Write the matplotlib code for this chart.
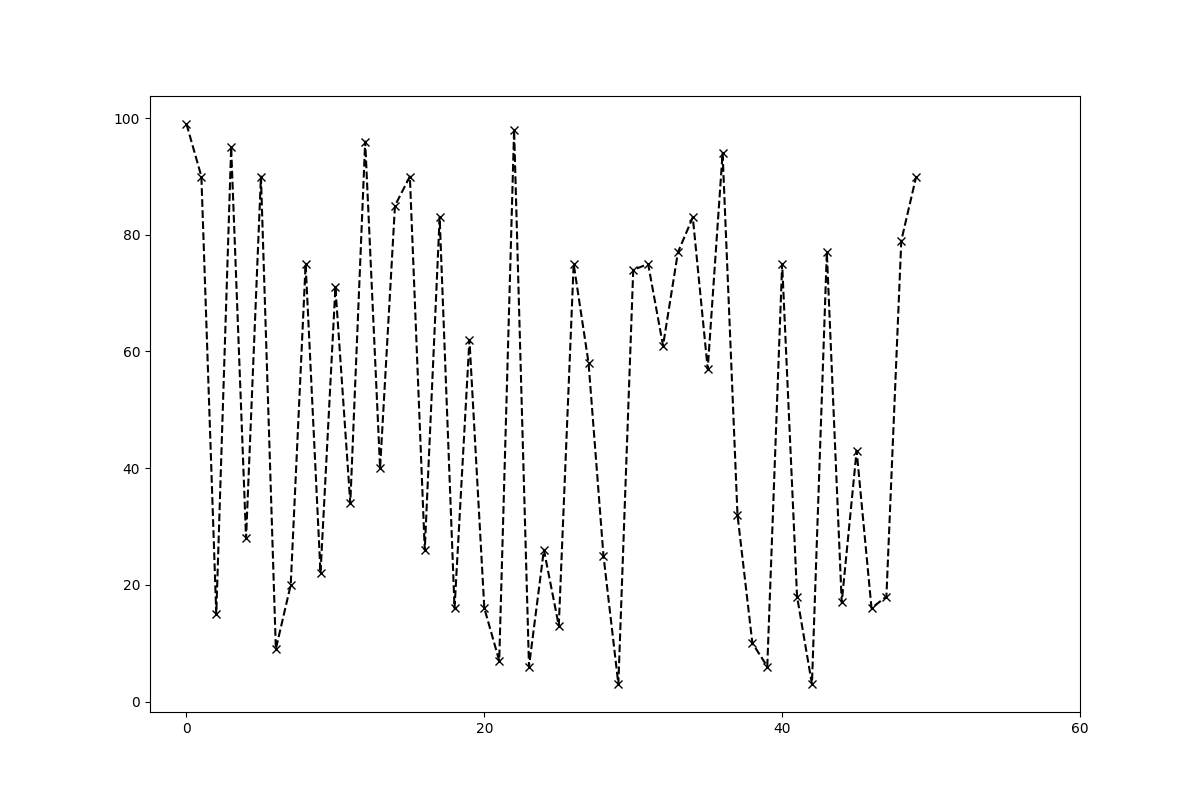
import matplotlib
matplotlib.use('Agg')
import matplotlib.pyplot as plt

wartosci = [99, 90, 15, 95, 28, 90, 9, 20, 75, 22,
            71, 34, 96, 40, 85, 90, 26, 83, 16, 62,
            16, 7, 98, 6, 26, 13, 75, 58, 25, 3,
            74, 75, 61, 77, 83, 57, 94, 32, 10, 6,
            75, 18, 3, 77, 17, 43, 16, 18, 79, 90]
indeksy = list(range(len(wartosci)))

fig = plt.figure(figsize=(12, 8), dpi=100)
ax = fig.add_subplot()
ax.plot(indeksy, wartosci, 'k--x')
ax.set_xlim(right=60)
ax.set_xticks([0, 20, 40, 60])

plt.savefig('out.png')
